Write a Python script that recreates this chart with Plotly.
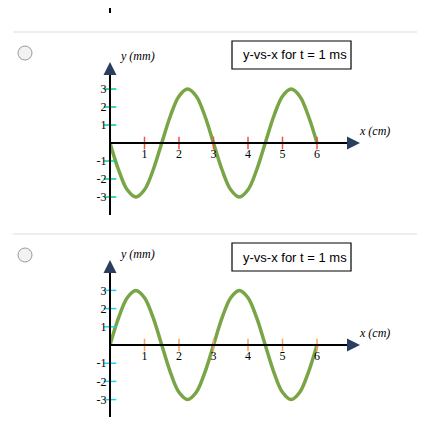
import plotly.graph_objects as go

x_vals = [i * 0.25 for i in range(25)]
y_top = [0, -1.5, -2.6, -3, -2.6, -1.5, 0, 1.5, 2.6, 3, 2.6, 1.5, 0,
         -1.5, -2.6, -3, -2.6, -1.5, 0, 1.5, 2.6, 3, 2.6, 1.5, 0]
y_bot = [-v for v in y_top]
x_ticks = [1, 2, 3, 4, 5, 6]
y_ticks = [-3, -2, -1, 1, 2, 3]
title_text = "y-vs-x for t = 1 ms"

W, H = 425, 435
def px(p): return p / W
def py(p): return 1 - p / H

GREEN = "#78a545"
fig = go.Figure()

panels = [
    dict(y=y_top, zero=135, top=60, bot=207, ppu=18.0, box=33, suffix=""),
    dict(y=y_bot, zero=337, top=258, bot=409, ppu=18.2, box=235, suffix="2"),
]
serif = dict(family="Liberation Serif", size=12, color="black")
xppu = 34.5
x0 = 102
xend = 345
for i, p in enumerate(panels):
    xa = "x" + p["suffix"]; ya = "y" + p["suffix"]
    fig.add_trace(go.Scatter(x=x_vals, y=p["y"], mode="lines", xaxis=xa, yaxis=ya,
                             line=dict(color=GREEN, width=3.5, shape="spline"),
                             cliponaxis=False, hoverinfo="skip"))
    fig.add_trace(go.Scatter(x=x_ticks, y=[0]*len(x_ticks), mode="markers", xaxis=xa, yaxis=ya,
                             marker=dict(symbol="line-ns-open", size=9, line=dict(color="black", width=1.5)),
                             cliponaxis=False, hoverinfo="skip"))
    fig.add_trace(go.Scatter(x=[0]*len(y_ticks), y=y_ticks, mode="markers", xaxis=xa, yaxis=ya,
                             marker=dict(symbol="line-ew-open", size=9, line=dict(color="black", width=1.5)),
                             cliponaxis=False, hoverinfo="skip"))
    yr = [-(p["bot"] - p["zero"]) / p["ppu"], (p["zero"] - p["top"]) / p["ppu"]]
    xr = [0, (xend - x0) / xppu]
    xkey = "xaxis" + p["suffix"]; ykey = "yaxis" + p["suffix"]
    fig.update_layout(**{
        xkey: dict(domain=[px(x0), px(xend)], range=xr, anchor="free", position=py(p["zero"]),
                   tickvals=x_ticks, ticks="", showgrid=False, zeroline=False,
                   showline=True, linecolor="black", linewidth=2, tickfont=serif,
                   fixedrange=True),
        ykey: dict(domain=[py(p["bot"]), py(p["top"])], range=yr, anchor="free", position=px(x0),
                   tickvals=y_ticks, ticktext=[str(v) for v in y_ticks], ticks="",
                   showgrid=False, zeroline=False, showline=True, linecolor="black",
                   linewidth=2, tickfont=serif, fixedrange=True),
    })
    fig.add_annotation(xref="paper", yref="paper", x=px(x0), y=py(p["top"] - 6),
                       ax=0, ay=8, showarrow=True, arrowhead=2, arrowsize=1.3,
                       arrowwidth=2, text="")
    fig.add_annotation(xref="paper", yref="paper", x=px(xend + 7), y=py(p["zero"]),
                       ax=-8, ay=0, showarrow=True, arrowhead=2, arrowsize=1.3,
                       arrowwidth=2, text="")
    fig.add_annotation(xref="paper", yref="paper", x=px(110), y=py(p["top"] - 12),
                       text="<i>y (mm)</i>", showarrow=False, xanchor="left", yanchor="middle",
                       font=serif)
    fig.add_annotation(xref="paper", yref="paper", x=px(349), y=py(p["zero"] - 12),
                       text="<i>x (cm)</i>", showarrow=False, xanchor="left", yanchor="middle",
                       font=serif)
    fig.add_shape(type="rect", xref="paper", yref="paper", x0=px(224), x1=px(343),
                  y0=py(p["box"] + 28), y1=py(p["box"]), line=dict(color="black", width=1.2))
    fig.add_annotation(xref="paper", yref="paper", x=px(341), y=py(p["box"] + 14),
                       text=title_text, showarrow=False, xanchor="right", yanchor="middle",
                       font=dict(family="Liberation Sans", size=13, color="black"))
    cy = 45 if i == 0 else 247
    fig.add_shape(type="circle", xref="paper", yref="paper", x0=px(10), x1=px(24),
                  y0=py(cy + 7), y1=py(cy - 7), line=dict(color="#9a9a9a", width=1),
                  fillcolor="#f2f2f2")

for ly in [24, 226]:
    fig.add_shape(type="line", xref="paper", yref="paper", x0=px(5), x1=px(412),
                  y0=py(ly), y1=py(ly), line=dict(color="#dddddd", width=1))
fig.add_shape(type="line", xref="paper", yref="paper", x0=px(102), x1=px(102),
              y0=py(0), y1=py(5), line=dict(color="black", width=2))

fig.update_layout(width=W, height=H, margin=dict(l=0, r=0, t=0, b=0),
                  paper_bgcolor="white", plot_bgcolor="white", showlegend=False)
fig.write_html("out.html")
